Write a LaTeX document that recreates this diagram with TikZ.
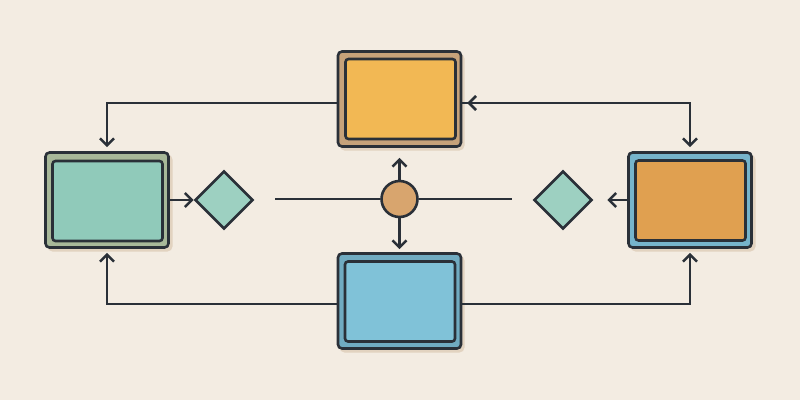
\documentclass[tikz,border=0pt]{standalone}
\usetikzlibrary{arrows.meta,shapes.geometric,decorations.markings}
\definecolor{bg}{HTML}{F3ECE2}
\definecolor{ink}{HTML}{2A3038}
\definecolor{sand}{HTML}{C6A27A}
\definecolor{orangein}{HTML}{F2B854}
\definecolor{sage}{HTML}{A8B899}
\definecolor{tealin}{HTML}{90CABA}
\definecolor{blueframe}{HTML}{76B4CB}
\definecolor{amber}{HTML}{E0A050}
\definecolor{bluein}{HTML}{80C2D8}
\definecolor{knob}{HTML}{D8A56E}
\definecolor{mint}{HTML}{9DD0C1}
\definecolor{shade}{HTML}{E2D3C0}
\begin{document}
\begin{tikzpicture}[x=1pt,y=-1pt,
  line/.style={draw=ink,line width=2.8pt},
  arr/.style={-{Straight Barb[length=7pt,width=14pt,line width=2.6pt]}},
  outerbox/.style={draw=ink,line width=2.6pt,rounded corners=4pt,minimum width=123pt,minimum height=95pt,inner sep=0pt},
  innerbox/.style={draw=ink,line width=2.6pt,rounded corners=3pt,minimum width=110pt,minimum height=80pt,inner sep=0pt},
  shadowbox/.style={fill=shade,rounded corners=5pt,minimum width=125pt,minimum height=97pt,inner sep=0pt},
  dia/.style={diamond,aspect=1,draw=ink,line width=2.6pt,fill=mint,minimum size=58pt,inner sep=0pt},
  midmark/.style={postaction={decorate},decoration={markings,mark=at position #1 with {\arrow{Straight Barb[reversed,length=7pt,width=14pt,line width=2.6pt]}}}}
]
\useasboundingbox (0,0) rectangle (800,400);
\fill[bg] (0,0) rectangle (800,400);
% shadows
\node[shadowbox] (tops) at (402,102) {};
\node[shadowbox] (lefts) at (110,203) {};
\node[shadowbox] (rights) at (693,203) {};
\node[shadowbox] (bots) at (402,304) {};
% boxes
\node[outerbox,fill=sand] (top) at (399.5,99) {};
\node[innerbox,fill=orangein] (topin) at (400.5,99) {};
\node[outerbox,fill=sage] (left) at (107,200) {};
\node[innerbox,fill=tealin] (leftin) at (107.5,201) {};
\node[outerbox,fill=blueframe] (right) at (690,200) {};
\node[innerbox,fill=amber] (rightin) at (690.5,200.5) {};
\node[outerbox,fill=blueframe!95!black] (bot) at (399.5,301) {};
\node[innerbox,fill=bluein] (botin) at (400,301.5) {};
% diamonds and hub
\node[dia] (ld) at (224,200) {};
\node[dia] (rd) at (563,200) {};
\node[circle,draw=ink,line width=2.6pt,fill=knob,minimum size=36pt,inner sep=0pt] (hub) at (399.5,199) {};
\coordinate (hl) at (275,199);
\coordinate (hr) at (512,199);
% connectors
\draw[line] (hl) -- (hub.west);
\draw[line] (hub.east) -- (hr);
\draw[line,arr,shorten >=10pt] (hub.north) -- (hub.north |- top.south);
\draw[line,arr,shorten >=3pt] (hub.south) -- (hub.south |- bot.north);
\draw[line,arr] (left.east) -- (ld.west);
\draw[line,arr,shorten >=14pt] (right.west) -- (rd.east);
\draw[line,arr,shorten >=4pt] ([yshift=-4pt]top.west) -| (left.north);
\draw[line,arr,shorten >=4pt,midmark=15pt] ([yshift=-4pt]top.east) -| (right.north);
\draw[line,arr,shorten >=4pt] ([yshift=-3pt]bot.west) -| (left.south);
\draw[line,arr,shorten >=4pt] ([yshift=-3pt]bot.east) -| (right.south);
\end{tikzpicture}
\end{document}
